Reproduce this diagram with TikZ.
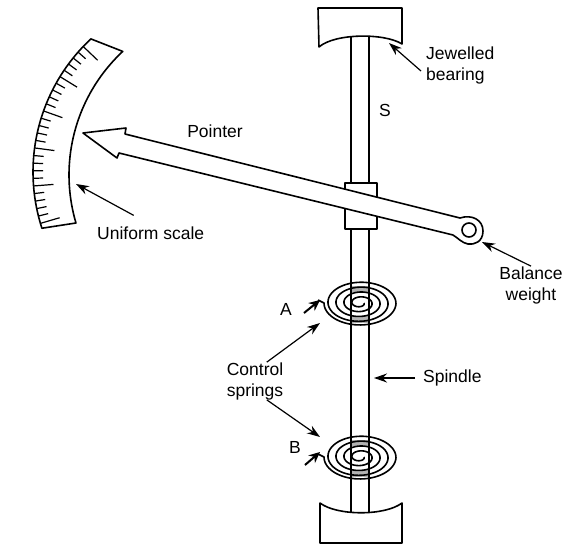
\documentclass[tikz,border=0pt]{standalone}
\usepackage{fontspec}
\setmainfont{Liberation Sans}
\usepackage{tikz}
\usetikzlibrary{positioning, arrows.meta, calc}

\begin{document}
\begin{tikzpicture}[
    x=1pt, y=-1pt,
    part/.style={draw, line width=1.6pt, line join=round},
    thinpart/.style={draw, line width=1.2pt},
    arrow/.style={-{Stealth[length=13pt, width=9pt]}, line width=1.2pt},
    springarrow/.style={-{Stealth[length=11pt, width=10pt]}, line width=2pt},
    label/.style={font=\fontsize{17.5}{21}\selectfont, align=center, inner sep=0pt},
]
\useasboundingbox (0,0) rectangle (574,552);

% scale
\coordinate (scaleouter) at (215,172);
\coordinate (scaleinner) at (238,175);
\draw[part] plot[domain=162:227, samples=40] ({215+182*cos(\x)},{172+182*sin(\x)})
    -- plot[domain=227:163.5, samples=40] ({238+169*cos(\x)},{175+169*sin(\x)}) -- cycle;
\foreach \k in {0,...,25} {
  \pgfmathsetmacro{\tickang}{163.6+2.4*\k}
  \pgfmathsetmacro{\ticklen}{mod(\k,5)==0 ? 20 : 10}
  \draw[thinpart] ($(scaleouter)+(\tickang:182)$) -- ($(scaleouter)+(\tickang:182-\ticklen)$);
}

% spindle
\draw[part] (351,35) -- (351,513);
\draw[part] (369,35) -- (369,513);

% bearings
\draw[part, fill=white] (319,47) -- (318,8) -- (402,8) -- (402,44) .. controls (385,33) and (335,33) .. cycle;
\draw[part, fill=white] (320,503) -- (320,543) -- (402,543) -- (402,503) .. controls (385,516) and (337,516) .. cycle;

% collar and pointer
\draw[part, fill=white] (345,183) rectangle (377,229);
\draw[part, fill=white] (83,133) -- (126,128) -- (125,134) -- (460,218)
    .. controls (472,214) and (483,220) .. (483,231)
    .. controls (483,242) and (474,245) .. (468,244)
    .. controls (462,243) and (458,238) .. (453,235)
    -- (119,153) -- (117,158) -- cycle;
\node[part, circle, fill=white, minimum size=14pt, inner sep=0pt] (ball) at (469,230) {};

% springs
\coordinate (springA) at (360,303);
\coordinate (springB) at (360,457);
\foreach \springc in {springA, springB} {
  \fill[gray!60, shift={(\springc)}] (-8,-17) rectangle (8,-11);
  \fill[gray!60, shift={(\springc)}] (-8,13) rectangle (8,20);
  \draw[part, shift={(\springc)}] plot[domain=0:1620, samples=320]
      ({(4+min(\x,1440)/45)*cos(\x)},{(4+min(\x,1440)/45)*0.61*sin(\x)})
      -- ++(-6,-3);
}

% labels
\node[label] (pointerlabel) at (215,131) {Pointer};
\node[label] (slabel) at (385,110) {S};
\node[label, anchor=west, align=left] (jewelled) at (426,65) {Jewelled\\bearing};
\node[label, anchor=west] (uniform) at (97,233) {Uniform scale};
\node[label] (balance) at (531,285) {Balance\\weight};
\node[label] (alabel) at (286,309) {A};
\node[label] (blabel) at (295,447) {B};
\node[label] (control) at (255,381) {Control\\springs};
\node[label, anchor=west] (spindle) at (423,378) {Spindle};

% arrows
\coordinate (bearingtip) at (389,43);
\coordinate (scaletip) at (76,184);
\coordinate (balancetip) at (482,242);
\coordinate (upperspring) at (320,323);
\coordinate (lowerspring) at (320,437);
\coordinate (spindletip) at (374,378);
\coordinate (atail) at (304,313);
\coordinate (atip) at (320,300);
\coordinate (btail) at (305,465);
\coordinate (btip) at (320,452);

\draw[arrow] ([xshift=-5pt,yshift=-6pt]jewelled.west) -- (bearingtip);
\draw[arrow] ([xshift=-17pt,yshift=11pt]uniform.north) -- (scaletip);
\draw[arrow] (balance.north) -- (balancetip);
\draw[arrow] (control.58) -- (upperspring);
\draw[arrow] (control.-58) -- (lowerspring);
\draw[arrow] ([xshift=-8pt]spindle.west) -- (spindletip);
\draw[springarrow] (atail) -- (atip);
\draw[springarrow] (btail) -- (btip);

\end{tikzpicture}
\end{document}
